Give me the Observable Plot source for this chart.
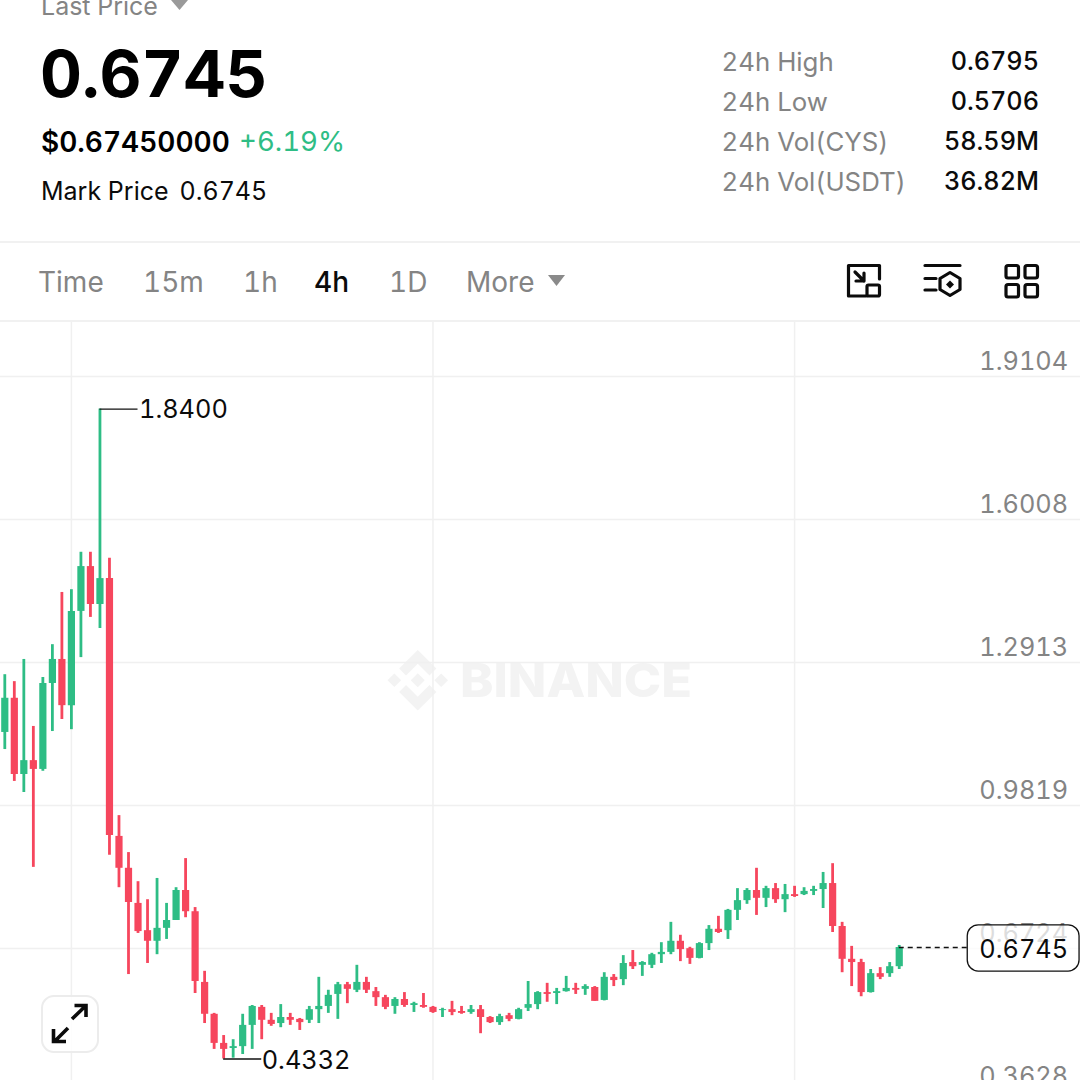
<!DOCTYPE html>
<html><head><meta charset="utf-8">
<script src="https://cdn.jsdelivr.net/npm/d3@7"></script>
<script src="https://cdn.jsdelivr.net/npm/@observablehq/plot@0.6"></script>
<style>
html,body{margin:0;padding:0;background:#fff;width:1080px;height:1080px;overflow:hidden;font-family:Inter,sans-serif;font-variant-numeric:tabular-nums}
#page{position:relative;width:1080px;height:1080px;overflow:hidden}
.t{position:absolute;white-space:nowrap;line-height:1;transform:translateY(-50%)}
.g{color:#848484}.k{color:#0b0b0b}
.line{position:absolute;left:0;width:1080px;height:2px;background:#f1f1f1}
#chart{position:absolute;left:0;top:322px}
#chart svg{background:transparent}
#wm{position:absolute;left:0;top:0}
#expand{position:absolute;left:41px;top:995px;width:54px;height:54px;border:2px solid #ececec;border-radius:13px;background:rgba(255,255,255,.85)}
</style></head><body><div id="page">
<svg id="wm" width="1080" height="1080">
<g transform="translate(387.5,650) scale(0.478)" fill="#f3f3f3"><path d="M38.73 53.2L63.3 28.63l24.59 24.59 14.3-14.3L63.3 0 24.43 38.9zM0 63.3l14.3-14.3 14.3 14.3-14.3 14.3zM38.73 73.41L63.3 97.98l24.59-24.59 14.31 14.29-.01.01L63.3 126.61 24.43 87.74l-.02-.02zM97.99 63.31l14.3-14.3 14.31 14.3-14.3 14.3zM77.83 63.3L63.3 48.78 52.56 59.52l-1.24 1.23-2.54 2.55 14.52 14.52 14.53-14.52z"/></g>
<text x="460" y="697" font-family="Inter" font-weight="800" font-size="47" fill="#f3f3f3" textLength="232" lengthAdjust="spacingAndGlyphs">BINANCE</text>
</svg>

<div class="t g" style="left:41px;top:6px;font-size:25px">Last Price</div>
<svg style="position:absolute;left:170px;top:0" width="20" height="12"><path d="M1 0H18L9.5 10Z" fill="#9a9a9a"/></svg>
<div class="t" style="left:40px;top:73px;font-size:65px;font-weight:700;color:#000">0.6745</div>
<div class="t" style="left:41px;top:142px;font-size:28px;font-weight:600;color:#000">$0.67450000</div>
<div class="t" style="left:239px;top:142px;font-size:27.6px;font-weight:400;color:#2ebd85">+6.19%</div>
<div class="t k" style="left:41px;top:191px;font-size:25px">Mark Price</div>
<div class="t k" style="left:179.5px;top:191px;font-size:25px">0.6745</div>

<div class="t g" style="left:721.5px;top:62px;font-size:25.8px">24h High</div>
<div class="t g" style="left:721.5px;top:102px;font-size:25.8px">24h Low</div>
<div class="t g" style="left:721.5px;top:142px;font-size:25.8px">24h Vol(CYS)</div>
<div class="t g" style="left:721.5px;top:182px;font-size:25.8px">24h Vol(USDT)</div>
<div class="t k" style="right:41px;top:62px;font-size:25.2px;font-weight:500">0.6795</div>
<div class="t k" style="right:41px;top:102px;font-size:25.2px;font-weight:500">0.5706</div>
<div class="t k" style="right:41px;top:142px;font-size:25.2px;font-weight:500">58.59M</div>
<div class="t k" style="right:41px;top:182px;font-size:25.2px;font-weight:500">36.82M</div>

<div class="line" style="top:241px"></div>
<div class="t g" style="left:38px;top:282px;font-size:28px">Time</div>
<div class="t g" style="left:143px;top:282px;font-size:28px">15m</div>
<div class="t g" style="left:243px;top:282px;font-size:28px">1h</div>
<div class="t k" style="left:314px;top:282px;font-size:28px;font-weight:500">4h</div>
<div class="t g" style="left:389px;top:282px;font-size:28px">1D</div>
<div class="t g" style="left:466px;top:282px;font-size:28px">More</div>
<svg style="position:absolute;left:547px;top:274px" width="20" height="14"><path d="M1 1H18L9.5 12Z" fill="#8a8a8a"/></svg>

<svg style="position:absolute;left:840px;top:255px" width="210" height="50" fill="none" stroke="#0b0b0b" stroke-width="3.2" stroke-linejoin="round" stroke-linecap="round">
<path d="M26 41H8.5V10.5H39.5V24"/><rect x="27" y="30" width="12.5" height="11" rx="1.5"/><path d="M15 17L24 26M24 18V26H16"/>
<path d="M85 10.5H120M85 23.5H96M85 35H96"/>
<path d="M110 17.5L120 23.5V34.5L110 40.5L100 34.5V23.5Z"/><path d="M110 25.5L114 29.5L110 33.5L106 29.5Z" fill="#0b0b0b" stroke="none"/>
<rect x="166" y="10.5" width="12.5" height="12.5" rx="2"/><rect x="185" y="10.5" width="12.5" height="12.5" rx="2"/>
<rect x="166" y="29.5" width="12.5" height="12.5" rx="2"/><rect x="185" y="29.5" width="12.5" height="12.5" rx="2"/>
</svg>
<div class="line" style="top:320px"></div>

<div id="chart"></div>

<div id="expand"><svg width="54" height="54" fill="none" stroke="#0b0b0b" stroke-width="3.6"><path d="M29 22L42 9.5M31.5 8.5H43V20M25 31L12 44M10.5 32V44.5H23"/></svg></div>
</div>
<script>
const opens = [1.140,1.214,1.049,1.079,1.060,1.246,1.298,1.198,1.402,1.499,1.417,1.473,.915,.846,.770,.711,.688,.716,.733,.798,.752,.599,.530,.467,.456,.460,.506,.545,.517,.510,.523,.519,.517,.540,.547,.573,.594,.582,.599,.579,.566,.547,.562,.549,.549,.545,.538,.540,.536,.534,.540,.523,.512,.527,.519,.543,.551,.577,.575,.579,.586,.584,.588,.560,.610,.605,.642,.636,.636,.659,.664,.688,.672,.651,.683,.714,.711,.755,.776,.798,.781,.802,.778,.789,.789,.796,.800,.813,.720,.649,.642,.577,.618,.618,.633];
const highs = [1.265,1.250,1.298,1.153,1.259,1.330,1.443,1.449,1.530,1.530,1.840,1.517,.960,.880,.817,.778,.824,.770,.804,.867,.761,.623,.532,.484,.475,.530,.549,.549,.532,.551,.532,.521,.547,.610,.582,.599,.599,.636,.610,.588,.571,.566,.577,.556,.575,.547,.543,.558,.547,.549,.549,.525,.530,.532,.543,.601,.579,.597,.586,.612,.597,.594,.590,.620,.616,.657,.668,.644,.662,.685,.729,.701,.675,.685,.722,.742,.757,.802,.802,.846,.807,.813,.811,.807,.804,.807,.837,.856,.729,.677,.649,.627,.631,.642,.679];
const lows = [1.103,1.034,1.010,.848,1.056,1.142,1.168,1.146,1.302,1.389,1.365,.874,.804,.616,.705,.640,.659,.692,.733,.739,.575,.510,.454,.4332,.435,.443,.454,.475,.504,.501,.506,.495,.510,.510,.532,.519,.553,.577,.575,.547,.540,.530,.545,.534,.543,.532,.523,.527,.530,.530,.488,.510,.506,.514,.518,.536,.540,.556,.551,.578,.573,.571,.558,.559,.590,.592,.627,.612,.629,.640,.659,.644,.638,.650,.668,.705,.692,.733,.768,.744,.761,.770,.750,.783,.787,.787,.759,.707,.620,.590,.568,.576,.605,.610,.627];
const closes = [1.214,1.049,1.079,1.060,1.246,1.298,1.198,1.402,1.499,1.417,1.473,.917,.846,.772,.709,.688,.716,.733,.798,.752,.601,.530,.467,.454,.460,.506,.547,.517,.508,.523,.517,.512,.540,.547,.571,.594,.584,.599,.582,.566,.545,.562,.549,.553,.545,.534,.540,.534,.532,.540,.523,.512,.525,.519,.540,.551,.577,.573,.579,.586,.582,.590,.558,.610,.603,.640,.633,.642,.659,.664,.688,.670,.651,.683,.714,.707,.755,.776,.798,.781,.802,.778,.789,.785,.796,.800,.813,.720,.649,.642,.577,.618,.610,.633,.6745];
const priceTicks = [1.9104,1.6008,1.2913,0.9819,0.6724,0.3628];
const timeTicks = [7,45,83];
const highMark = {i:10, price:1.84, label:"1.8400"};
const lowMark = {i:23, price:0.4332, label:"0.4332"};
const lastPrice = {i:94, price:0.6745, label:"0.6745"};

const green = "#2ebd85", red = "#f6465d";
const candles = opens.map((o,i)=>({i,o,h:highs[i],l:lows[i],c:closes[i],col:closes[i]>=o?green:red}));

const labelSize = 25.3;
const chart = Plot.plot({
  width:1080,height:758,margin:0,
  style:{background:"transparent",fontFamily:"Inter, sans-serif"},
  x:{axis:null,domain:[-0.452,113.05]},
  y:{axis:null,domain:[0.3867,2.0273]},
  marks:[
    Plot.ruleY(priceTicks,{stroke:"#f0f0f0",strokeWidth:1.5}),
    Plot.ruleX(timeTicks,{stroke:"#f0f0f0",strokeWidth:1.5}),
    Plot.text(priceTicks,{x:()=>111.75,y:d=>d,text:d=>d.toFixed(4),textAnchor:"end",dy:-15,fontSize:labelSize,fontVariant:"tabular-nums",fill:"#848484"}),
    Plot.ruleX(candles,{x:"i",y1:"l",y2:"h",stroke:"col",strokeWidth:2.8}),
    Plot.ruleX(candles,{x:"i",y1:"o",y2:"c",stroke:"col",strokeWidth:7.2}),
    Plot.ruleY([highMark],{y:"price",x1:"i",x2:d=>d.i+4,stroke:"#111",strokeWidth:1.3}),
    Plot.text([highMark],{x:d=>d.i+4,y:"price",text:"label",textAnchor:"start",dx:1,dy:1,fontSize:labelSize,fontVariant:"tabular-nums",fill:"#0b0b0b"}),
    Plot.ruleY([lowMark],{y:"price",x1:"i",x2:d=>d.i+4,stroke:"#111",strokeWidth:1.3}),
    Plot.text([lowMark],{x:d=>d.i+4,y:"price",text:"label",textAnchor:"start",dx:0,dy:2,fontSize:labelSize,fontVariant:"tabular-nums",fill:"#0b0b0b"}),
    Plot.ruleY([lastPrice],{y:"price",x1:"i",x2:()=>101.2,stroke:"#111",strokeWidth:1.5,strokeDasharray:"5,4"}),
    Plot.rect([lastPrice],{x1:()=>101.2,x2:()=>112.95,y1:()=>0.6225,y2:()=>0.7225,rx:11,fill:"#fff",fillOpacity:0.72,stroke:"#111",strokeWidth:1.3}),
    Plot.text([lastPrice],{x:()=>111.75,y:"price",text:"label",textAnchor:"end",dy:2,fontSize:labelSize,fontVariant:"tabular-nums",fill:"#0b0b0b"})
  ]
});
document.getElementById("chart").appendChild(chart);
</script>
</body></html>
